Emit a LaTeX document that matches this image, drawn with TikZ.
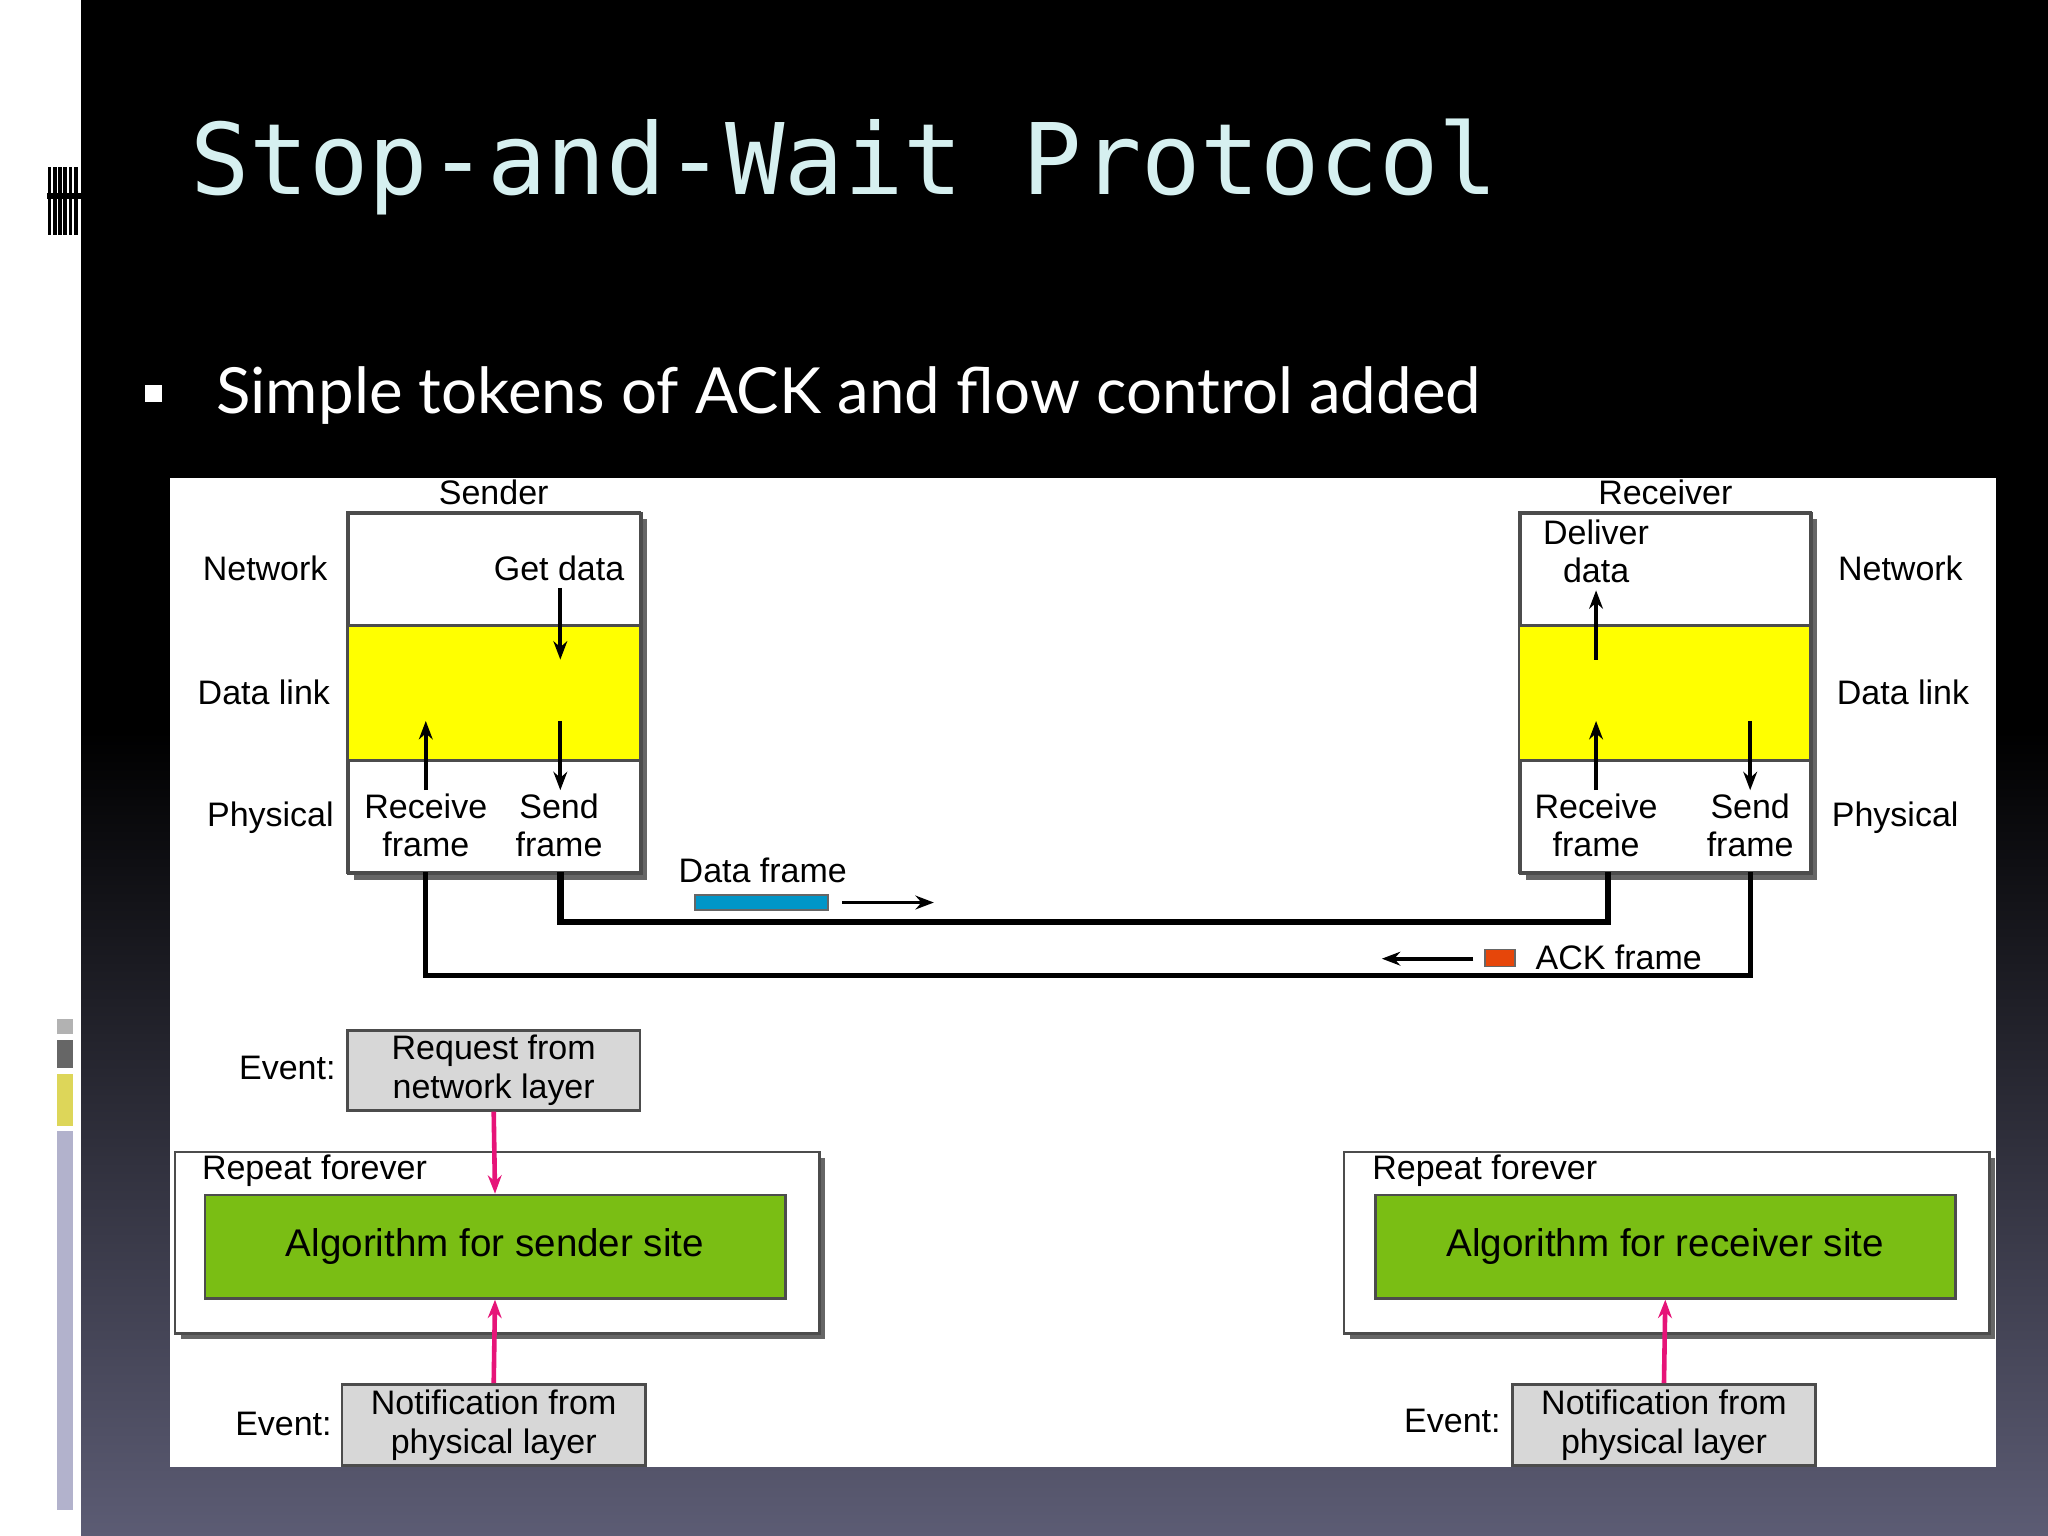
\documentclass[tikz,border=0pt]{standalone}
\usepackage{fontspec}
\setmainfont{Liberation Sans}
\newfontfamily\titlefont{DejaVu Sans Mono}
\newfontfamily\bulletfont{Lato}
\usetikzlibrary{arrows.meta,shadows}
\definecolor{bgbot}{RGB}{92,92,116}
\definecolor{titlec}{RGB}{214,240,240}
\definecolor{yel}{RGB}{255,255,0}
\definecolor{grn}{RGB}{122,190,20}
\definecolor{gry}{RGB}{215,215,215}
\definecolor{pink}{RGB}{230,20,120}
\definecolor{blu}{RGB}{0,150,200}
\definecolor{org}{RGB}{230,70,10}
\begin{document}
\begin{tikzpicture}[x=0.01cm,y=-0.01cm,
  lbl/.style={font=\fontsize{7.4}{8.4}\selectfont,align=center,inner sep=0pt},
  box/.style={draw=black!70,line width=0.6pt,drop shadow={shadow xshift=1.2pt,shadow yshift=-1.2pt,fill=black!60,opacity=1}},
  arr/.style={-{Stealth[length=4pt,width=3pt]},line width=0.8pt},
  parr/.style={-{Stealth[length=4pt,width=3pt]},line width=1pt,draw=pink},
  thick line/.style={line width=1.4pt}]
\useasboundingbox (0,0) rectangle (1568,1176);
\fill[black] (62,0) rectangle (1568,560);
\shade[top color=black,bottom color=bgbot] (62,560) rectangle (1568,1176);
\fill[white] (0,0) rectangle (62,1176);
\foreach \x in {38,42,46,50,54,58} \draw[black,line width=0.8pt] (\x,128) -- (\x,180);
\fill[black] (36,148) rectangle (62,152);
\fill[gray!60] (44,780) rectangle (56,792);
\fill[black!60] (44,796) rectangle (56,818);
\fill[yellow!50!olive!60] (44,822) rectangle (56,862);
\fill[blue!20!gray!50] (44,866) rectangle (56,1156);
\node[anchor=west,inner sep=0pt,text=titlec,font=\titlefont\fontsize{21.5}{24}\selectfont] (title) at (145,128) {Stop-and-Wait Protocol};
\fill[white] (111,295) rectangle (124,308);
\node[anchor=west,inner sep=0pt,text=white,font=\bulletfont\fontsize{13.85}{16}\selectfont] (bullet) at (165,303) {Simple tokens of ACK and flow control added};
\fill[white] (130,366) rectangle (1528,1123);
% sender
\node[box,fill=white,minimum width=2.24cm,minimum height=2.76cm,inner sep=0pt,anchor=north west] (sbox) at (266,392) {};
\fill[yel] (266,479) rectangle (490,582);
\draw[black!70,line width=0.6pt] (266,479) -- (490,479) (266,582) -- (490,582) (266,392) rectangle (490,668);
\node[box,fill=white,minimum width=2.23cm,minimum height=2.76cm,inner sep=0pt,anchor=north west] (rbox) at (1163,392) {};
\fill[yel] (1163,479) rectangle (1386,582);
\draw[black!70,line width=0.6pt] (1163,479) -- (1386,479) (1163,582) -- (1386,582) (1163,392) rectangle (1386,668);
\node[lbl] (sender) at (378,377) {Sender};
\node[lbl] (receiver) at (1275,377) {Receiver};
\node[lbl] (nl) at (203,435) {Network};
\node[lbl] (dl) at (202,530) {Data link};
\node[lbl] (pl) at (207,626) {Physical};
\node[lbl] (nr) at (1455,435) {Network};
\node[lbl] (dr) at (1457,530) {Data link};
\node[lbl] (pr) at (1451,626) {Physical};
\node[lbl] (get) at (428,435) {Get data};
\node[lbl] (deliv) at (1222,422) {Deliver\\data};
\node[lbl] (srf) at (326,632) {Receive\\frame};
\node[lbl] (ssf) at (428,632) {Send\\frame};
\node[lbl] (rrf) at (1222,632) {Receive\\frame};
\node[lbl] (rsf) at (1340,632) {Send\\frame};
\coordinate (a1) at (429,450); \coordinate (a2) at (429,505);
\coordinate (a3) at (429,552); \coordinate (a4) at (429,605);
\coordinate (a5) at (326,605); \coordinate (a6) at (326,552);
\coordinate (b1) at (1222,505); \coordinate (b2) at (1222,452);
\coordinate (b3) at (1222,605); \coordinate (b4) at (1222,552);
\coordinate (b5) at (1340,552); \coordinate (b6) at (1340,605);
\draw[arr] (a1) -- (a2); \draw[arr] (a3) -- (a4); \draw[arr] (a5) -- (a6);
\draw[arr] (b1) -- (b2); \draw[arr] (b3) -- (b4); \draw[arr] (b5) -- (b6);
\coordinate (s1) at (429,668); \coordinate (s2) at (1231,668);
\coordinate (t1) at (326,668); \coordinate (t2) at (1340,668);
\draw[thick line] (s1) |- (830,706) -| (s2);
\draw[line width=1.1pt] (t1) |- (830,747) -| (t2);
\node[lbl] (df) at (584,666) {Data frame};
\draw[fill=blu,draw=black!60,line width=0.4pt] (532,685) rectangle (634,697);
\coordinate (d1) at (645,691); \coordinate (d2) at (715,691);
\draw[arr] (d1) -- (d2);
\draw[fill=org,draw=black!60,line width=0.4pt] (1137,727) rectangle (1160,740);
\coordinate (k1) at (1128,734); \coordinate (k2) at (1058,734);
\draw[arr] (k1) -- (k2);
\node[lbl,anchor=west] (ack) at (1175,733) {ACK frame};
% events
\node[draw=black!70,fill=gry,line width=0.6pt,minimum width=2.24cm,minimum height=0.61cm,lbl] (ev1) at (378,819.5) {Request from\\network layer};
\node[lbl] (e1) at (220,818) {Event:};
\node[box,fill=white,minimum width=4.93cm,minimum height=1.39cm,inner sep=0pt,anchor=north west] (rep1) at (133,881) {};
\node[lbl,anchor=west] (rf1) at (154,896) {Repeat forever};
\node[draw=black!70,fill=grn,line width=0.6pt,minimum width=4.44cm,minimum height=0.79cm,lbl,font=\fontsize{8.4}{9}\selectfont] (alg1) at (379,954.5) {Algorithm for sender site};
\node[draw=black!70,fill=gry,line width=0.6pt,minimum width=2.32cm,minimum height=0.62cm,lbl] (ev2) at (378,1091) {Notification from\\physical layer};
\node[lbl] (e2) at (217,1090) {Event:};
\node[box,fill=white,minimum width=4.94cm,minimum height=1.39cm,inner sep=0pt,anchor=north west] (rep2) at (1028,881) {};
\node[lbl,anchor=west] (rf2) at (1050,896) {Repeat forever};
\node[draw=black!70,fill=grn,line width=0.6pt,minimum width=4.44cm,minimum height=0.79cm,lbl,font=\fontsize{8.4}{9}\selectfont] (alg2) at (1275,954.5) {Algorithm for receiver site};
\node[draw=black!70,fill=gry,line width=0.6pt,minimum width=2.32cm,minimum height=0.62cm,lbl] (ev3) at (1274,1091) {Notification from\\physical layer};
\node[lbl] (e3) at (1112,1088) {Event:};
\draw[parr] (ev1.south) -- (alg1.north);
\draw[parr] (ev2.north) -- (alg1.south);
\draw[parr] (ev3.north) -- (alg2.south);
\end{tikzpicture}
\end{document}
